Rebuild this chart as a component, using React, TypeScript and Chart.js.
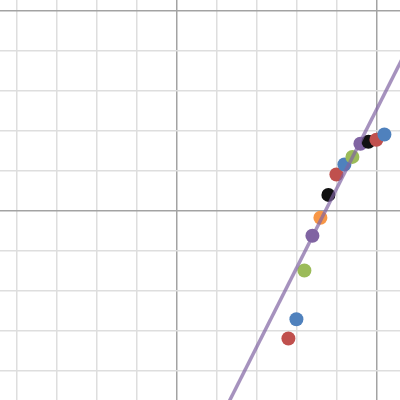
import React, { useEffect, useRef } from "react"
import Chart from "chart.js/auto"

const pointX = [2.8, 3.0, 3.2, 3.4, 3.6, 3.8, 4.0, 4.2, 4.4, 4.6, 4.8, 5.0, 5.2]
const pointY = [-3.2, -2.72, -1.5, -0.63, -0.18, 0.39, 0.9, 1.15, 1.34, 1.67, 1.72, 1.77, 1.9]
const pointColors = [
    "#C0504D", "#4F81BD", "#9BBB59", "#8064A2", "#F79646", "#111111",
    "#C0504D", "#4F81BD", "#9BBB59", "#8064A2", "#111111", "#C0504D", "#4F81BD",
]
const lineX = [1.2, 5.7]
const lineY = [-5.01, 3.9]
const gridTicks = [-4, -3, -2, -1, 0, 1, 2, 3, 4, 5]

const gridColor = (ctx: any) => (ctx.tick && ctx.tick.value % 5 === 0 ? "#a3a3a3" : "#dedede")

const ScatterChart = () => {
    const chartRef = useRef<HTMLCanvasElement | null>(null)

    useEffect(() => {
        document.body.style.margin = "0"
        const ctx = chartRef.current?.getContext("2d")
        if (!ctx) return

        const axis = (min: number, max: number) => ({
            type: "linear" as const,
            min,
            max,
            afterBuildTicks: (scale: any) => {
                scale.ticks = gridTicks.map((v) => ({ value: v }))
            },
            ticks: { display: false },
            border: { display: false },
            grid: { color: gridColor, lineWidth: 1.5, drawTicks: false, tickLength: 0 },
        })

        const chart = new Chart(ctx, {
            type: "scatter",
            data: {
                datasets: [
                    {
                        type: "line",
                        data: lineX.map((x, i) => ({ x, y: lineY[i] })),
                        borderColor: "rgba(128, 100, 162, 0.7)",
                        borderWidth: 3.5,
                        pointRadius: 0,
                        fill: false,
                        order: 0,
                    },
                    {
                        data: pointX.map((x, i) => ({ x, y: pointY[i] })),
                        backgroundColor: pointColors,
                        borderWidth: 0,
                        pointRadius: 7,
                        order: 1,
                    },
                ],
            },
            options: {
                responsive: false,
                animation: false,
                layout: { padding: 0, autoPadding: false },
                plugins: { legend: { display: false }, tooltip: { enabled: false } },
                scales: {
                    x: axis(-4.41, 5.59),
                    y: axis(-4.7375, 5.2625),
                },
            },
        })

        return () => chart.destroy()
    }, [])

    return <canvas ref={chartRef} width={400} height={400} style={{ display: "block" }} />
}

export default function App() {
    return <ScatterChart />
}
